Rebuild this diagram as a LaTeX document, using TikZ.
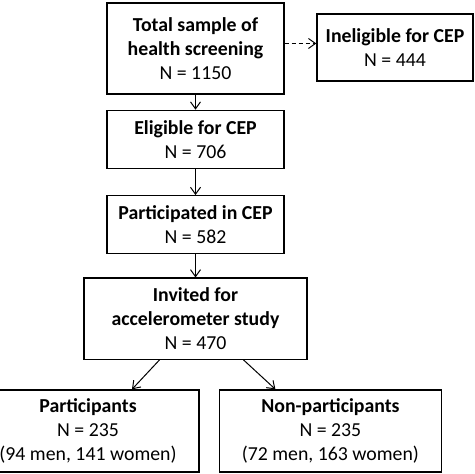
\documentclass[tikz,border=0pt]{standalone}
\usepackage{fontspec}
\setmainfont{Carlito}
\usetikzlibrary{positioning,arrows.meta}

\begin{document}
\begin{tikzpicture}[
  >={Straight Barb[length=3.5pt,width=5pt]},
  box/.style={draw,line width=0.7pt,align=center,minimum width=88.5pt,inner sep=2pt,
    font=\fontsize{9.9}{12}\selectfont},
  link/.style={->,line width=0.5pt}
]
  \clip (0,0) rectangle (237pt,-237pt);
  \node[box,minimum height=45.5pt] (total) at (97.75pt,-24.25pt)
    {\textbf{Total sample of}\\\textbf{health screening}\\N = 1150};
  \node[box,minimum width=78pt,minimum height=33.5pt] (inelig) at (197.5pt,-23.75pt)
    {\textbf{Ineligible for CEP}\\N = 444};
  \node[box,minimum height=29pt,below=7.5pt of total] (elig)
    {\textbf{Eligible for CEP}\\N = 706};
  \node[box,minimum height=29pt,below=13pt of elig] (partcep)
    {\textbf{Participated in CEP}\\N = 582};
  \node[box,minimum width=111.5pt,minimum height=40.5pt,below=11.5pt of partcep] (invited)
    {\textbf{Invited for}\\\textbf{accelerometer study}\\N = 470};
  \node[box,minimum width=111pt,minimum height=41pt] (part) at (44pt,-215.5pt)
    {\textbf{Participants}\\N = 235\\(94 men, 141 women)};
  \node[box,minimum width=111pt,minimum height=41pt,right=9.5pt of part] (nonpart)
    {\textbf{Non-participants}\\N = 235\\(72 men, 163 women)};

  \draw[link,dashed,dash pattern=on 2pt off 1.5pt] ([yshift=2.5pt]total.east)
    -- ([yshift=2.5pt]total.east -| inelig.west);
  \draw[link] (total) -- (elig);
  \draw[link] (elig) -- (partcep);
  \draw[link] (partcep) -- (partcep |- invited.north);
  \draw[link] ([xshift=-18pt]invited.south) -- ([xshift=22pt]part.north);
  \draw[link] ([xshift=24pt]invited.south) -- ([xshift=-27.5pt]nonpart.north);
\end{tikzpicture}
\end{document}
